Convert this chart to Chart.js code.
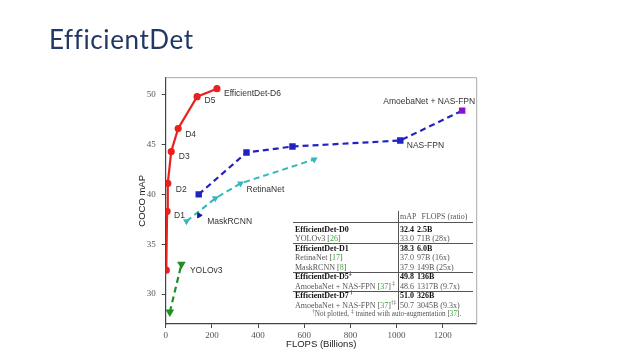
<!DOCTYPE html>
<html>
<head>
<meta charset="utf-8">
<script src="https://cdn.jsdelivr.net/npm/chart.js@4.4.0/dist/chart.umd.min.js"></script>
<style>
  html, body { margin: 0; padding: 0; background: #fff; }
  #wrap { position: relative; width: 638px; height: 359px; overflow: hidden; }
  #slideTitle {
    position: absolute; left: 49px; top: 26.5px;
    font-family: Lato, "Open Sans", sans-serif; font-size: 26px; line-height: 25px;
    letter-spacing: 0.6px; font-variant-ligatures: none;
    color: #1f3864; white-space: nowrap;
  }
  #chart { position: absolute; left: 0; top: 0; }
  #tbl { position: absolute; left: 0; top: 0; width: 638px; height: 359px; pointer-events: none;
    font-family: "Liberation Serif", "DejaVu Serif", serif; font-size: 8px; color: #555; }
  #tbl .cell { position: absolute; white-space: nowrap; line-height: 9px; }
  #tbl .b { font-weight: bold; color: #111; }
  #tbl .cite { color: #3aa83a; }
  #tbl sup { font-size: 5.5px; line-height: 0; }
  #tbl .hl { position: absolute; background: #555; }
</style>
</head>
<body>
<div id="wrap">
  <canvas id="chart" width="638" height="359"></canvas>
  <div id="slideTitle">EfficientDet</div>
  <div id="tbl"></div>
</div>
<script>
// ---- chart data (FLOPS in billions, COCO mAP) ----
const effFlops = [2.5, 6.1, 9, 24, 54, 136, 222];
const effMap = [32.4, 38.3, 41.1, 44.3, 46.6, 49.8, 50.6];
const effNames = ['', 'D1', 'D2', 'D3', 'D4', 'D5', 'EfficientDet-D6'];

const yoloFlops = [18, 68];
const yoloMap = [28.2, 33.0];

const maskFlops = [145];
const maskMap = [37.9];

const retinaFlops = [90, 215, 324, 643];
const retinaMap = [37.3, 39.6, 41.1, 43.5];

const nasFlops = [143, 350, 549, 1016, 1284];
const nasMap = [40.0, 44.2, 44.8, 45.4, 48.4];

const xTicks = [0, 200, 400, 600, 800, 1000, 1200];
const yTicks = [30, 35, 40, 45, 50];

// ---- table text ----
const tblModels = ['EfficientDet-D0', 'YOLOv3', 'EfficientDet-D1', 'RetinaNet', 'MaskRCNN',
  'EfficientDet-D5', 'AmoebaNet + NAS-FPN', 'EfficientDet-D7', 'AmoebaNet + NAS-FPN'];
const tblCites = ['', '26', '', '17', '8', '', '37', '', '37'];
const tblMarks = ['', '', '', '', '', '‡', ' ‡', ' †', '†‡'];
const tblMap = ['32.4', '33.0', '38.3', '37.0', '37.9', '49.8', '48.6', '51.0', '50.7'];
const tblFlops = ['2.5B', '71B (28x)', '6.0B', '97B (16x)', '149B (25x)', '136B', '1317B (9.7x)', '326B', '3045B (9.3x)'];
const tblBold = [true, false, true, false, false, true, false, true, false];

function pts(xs, ys) {
  return xs.map((x, i) => ({ x: x, y: ys[i] }));
}

// text labels next to points: [datasetIndex, pointIndex, text, dx, dy, align]
const pointLabels = [
  [0, 1, effNames[1], 7, 4.5, 'left'],
  [0, 2, effNames[2], 8, 6, 'left'],
  [0, 3, effNames[3], 7.5, 5, 'left'],
  [0, 4, effNames[4], 7, 6, 'left'],
  [0, 5, effNames[5], 7.5, 4.5, 'left'],
  [0, 6, effNames[6], 7, 5, 'left'],
  [1, 1, 'YOLOv3', 8.5, 6, 'left'],
  [2, 0, 'MaskRCNN', 8, 6, 'left'],
  [3, 2, 'RetinaNet', 6, 6, 'left'],
  [4, 3, 'NAS-FPN', 6.5, 5, 'left'],
  [4, 4, 'AmoebaNet + NAS-FPN', 13, -9, 'right']
];

// frame (top/right in light gray) + point labels
const decorPlugin = {
  id: 'decor',
  beforeDatasetsDraw(chart) {
    const a = chart.chartArea;
    const ctx = chart.ctx;
    ctx.save();
    ctx.strokeStyle = '#aaa';
    ctx.lineWidth = 1;
    ctx.beginPath();
    ctx.moveTo(a.left, a.top);
    ctx.lineTo(a.right, a.top);
    ctx.lineTo(a.right, a.bottom);
    ctx.stroke();
    ctx.restore();
  },
  afterDatasetsDraw(chart) {
    const ctx = chart.ctx;
    ctx.save();
    ctx.font = '8.5px "Liberation Sans", Arial, sans-serif';
    ctx.fillStyle = '#333';
    ctx.textBaseline = 'middle';
    pointLabels.forEach(function (l) {
      const el = chart.getDatasetMeta(l[0]).data[l[1]];
      ctx.textAlign = l[5];
      ctx.fillText(l[2], el.x + l[3], el.y + l[4]);
    });
    ctx.restore();
  }
};

const tickFont = { family: '"Liberation Serif", "DejaVu Serif", serif', size: 9 };
const titleFont = { family: '"Liberation Sans", Arial, sans-serif', size: 9.5 };

new Chart(document.getElementById('chart').getContext('2d'), {
  type: 'scatter',
  data: {
    datasets: [
      {
        label: 'EfficientDet',
        data: pts(effFlops, effMap),
        showLine: true,
        borderColor: '#e8211f',
        backgroundColor: '#e8211f',
        borderWidth: 2.2,
        pointRadius: 2.5,
        pointStyle: 'circle'
      },
      {
        label: 'YOLOv3',
        data: pts(yoloFlops, yoloMap),
        showLine: true,
        borderColor: '#1f8f24',
        backgroundColor: '#1f8f24',
        borderWidth: 2.2,
        borderDash: [6, 4],
        pointRadius: 2.8,
        pointStyle: 'triangle',
        rotation: 180
      },
      {
        label: 'MaskRCNN',
        data: pts(maskFlops, maskMap),
        showLine: false,
        borderColor: '#1c1c8a',
        backgroundColor: '#1c1c8a',
        pointRadius: 3,
        pointStyle: 'triangle',
        rotation: 90
      },
      {
        label: 'RetinaNet',
        data: pts(retinaFlops, retinaMap),
        showLine: true,
        borderColor: '#35b8bb',
        backgroundColor: '#35b8bb',
        borderWidth: 2,
        borderDash: [6, 4],
        pointRadius: 2,
        pointStyle: 'triangle',
        rotation: 60
      },
      {
        label: 'NAS-FPN',
        data: pts(nasFlops, nasMap),
        showLine: true,
        borderColor: '#2323c4',
        backgroundColor: ['#2323c4', '#2323c4', '#2323c4', '#2323c4', '#8a12d0'],
        pointBorderColor: ['#2323c4', '#2323c4', '#2323c4', '#2323c4', '#8a12d0'],
        borderWidth: 2.2,
        borderDash: [6, 4],
        pointRadius: 3,
        pointStyle: 'rect'
      }
    ]
  },
  options: {
    responsive: false,
    animation: false,
    events: [],
    layout: { padding: { left: 128, top: 77.7, right: 161.3, bottom: 0 } },
    plugins: {
      legend: { display: false },
      tooltip: { enabled: false }
    },
    scales: {
      x: {
        type: 'linear',
        min: 0,
        max: 1347,
        afterFit(scale) { scale.height = 35; },
        afterBuildTicks(scale) { scale.ticks = xTicks.map(v => ({ value: v })); },
        grid: { drawOnChartArea: false, drawTicks: true, tickLength: 4, color: '#444' },
        border: { display: true, color: '#444', width: 1.2 },
        ticks: { font: tickFont, color: '#555', padding: 2, callback: v => String(v) },
        title: { display: true, text: 'FLOPS (Billions)', font: titleFont, color: '#222', padding: { top: 0, bottom: 9 } }
      },
      y: {
        type: 'linear',
        min: 27,
        max: 51.7,
        afterFit(scale) { scale.width = 37.7; },
        afterBuildTicks(scale) { scale.ticks = yTicks.map(v => ({ value: v })); },
        grid: { drawOnChartArea: false, drawTicks: true, tickLength: 4, color: '#444' },
        border: { display: true, color: '#444', width: 1.2 },
        ticks: { font: tickFont, color: '#555', padding: 6, callback: v => String(v) },
        title: { display: true, text: 'COCO mAP', font: titleFont, color: '#222', padding: { top: 9, bottom: 0 } }
      }
    }
  },
  plugins: [decorPlugin]
});

// ---- comparison table drawn over the plot ----
(function buildTable() {
  const tbl = document.getElementById('tbl');
  const rowTop = 229.3, rowStep = 9.5;
  const colModel = 295, colMap = 400, colFlops = 417;

  function cell(html, left, centerY, cls) {
    const d = document.createElement('div');
    d.className = 'cell' + (cls ? ' ' + cls : '');
    d.style.left = left + 'px';
    d.style.top = (centerY - 4.5) + 'px';
    d.innerHTML = html;
    tbl.appendChild(d);
    return d;
  }
  function hline(x, y, w, h) {
    const d = document.createElement('div');
    d.className = 'hl';
    d.style.left = x + 'px';
    d.style.top = y + 'px';
    d.style.width = w + 'px';
    d.style.height = h + 'px';
    tbl.appendChild(d);
  }

  cell('mAP', colMap, 216);
  cell('FLOPS (ratio)', 421.5, 216);
  hline(293, 221.7, 180, 1.3);
  hline(397.8, 211, 0.8, 99);

  tblModels.forEach(function (m, i) {
    const y = rowTop + i * rowStep;
    const b = tblBold[i] ? 'b' : '';
    let name = m;
    if (tblCites[i]) name += ' [<span class="cite">' + tblCites[i] + '</span>]';
    if (tblMarks[i]) name += '<sup>' + tblMarks[i] + '</sup>';
    cell(name, colModel, y, b);
    cell(tblMap[i], colMap, y, b);
    cell(tblFlops[i], colFlops, y, b);
  });
  [1, 4, 6].forEach(function (i) {
    hline(293, rowTop + (i + 0.5) * rowStep - 0.3, 180, 0.8);
  });

  const foot = cell('<sup>†</sup>Not plotted, <sup>‡</sup> trained with auto-augmentation [<span class="cite">37</span>].',
    0, rowTop + 9 * rowStep);
  foot.style.fontSize = '7.2px';
  foot.style.left = (386.5 - foot.offsetWidth / 2) + 'px';
})();
</script>
</body>
</html>
